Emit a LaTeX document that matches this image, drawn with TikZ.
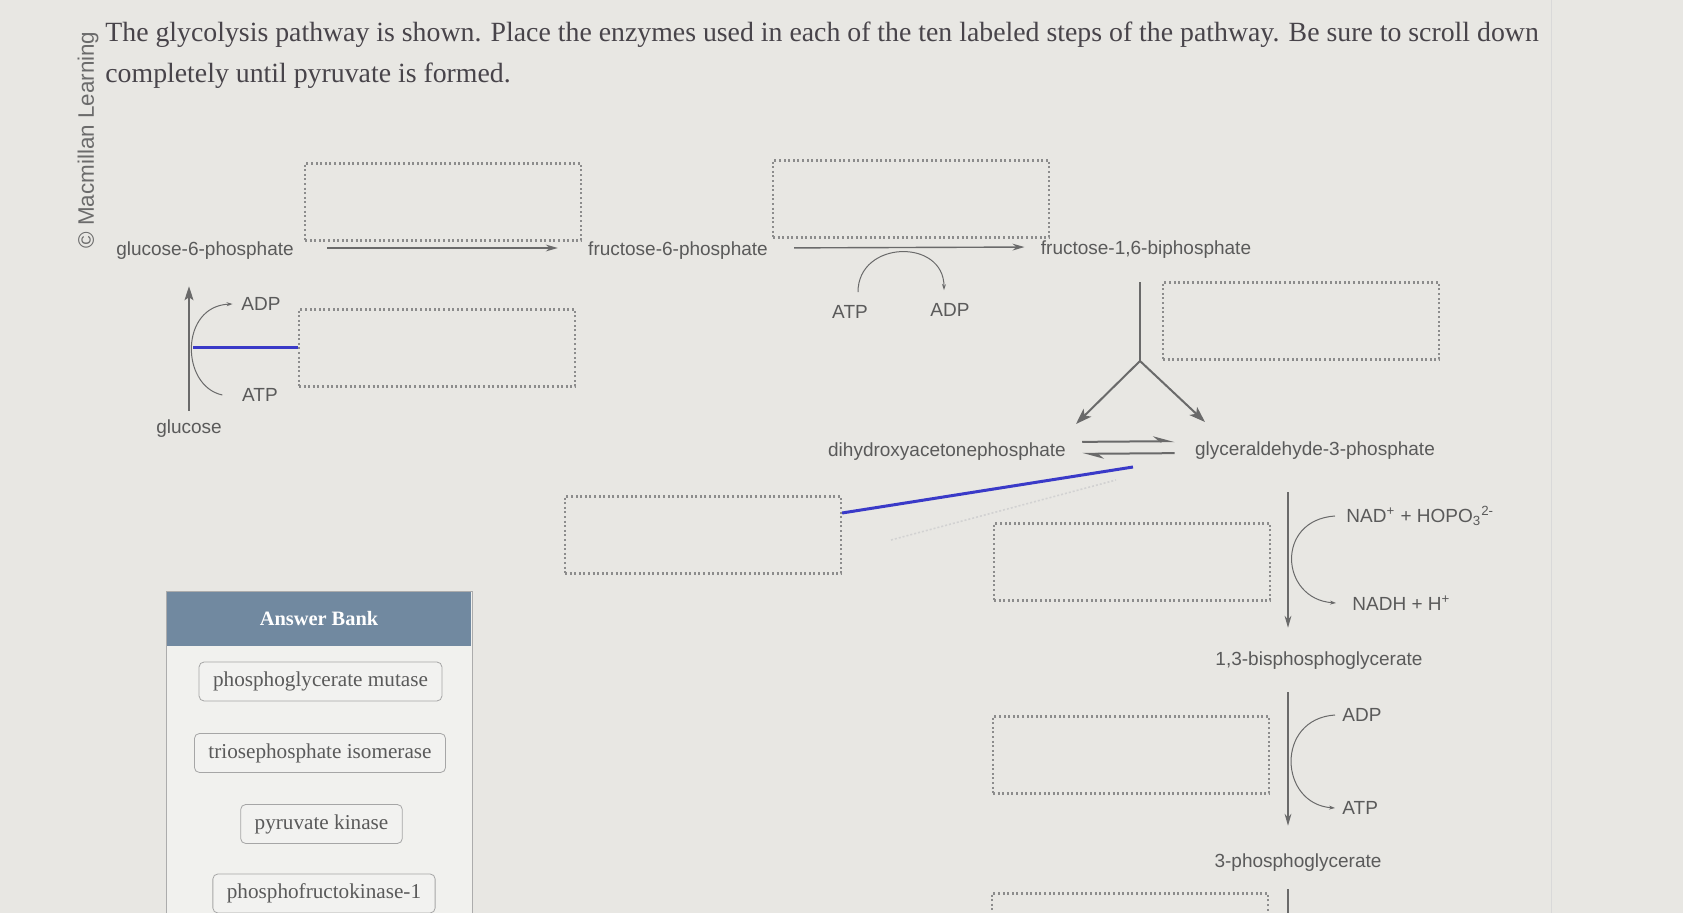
\documentclass[tikz,border=0pt]{standalone}
\usepackage{fontspec}
\setmainfont{Liberation Serif}
\setsansfont{Liberation Sans}
\usetikzlibrary{arrows.meta}
\definecolor{pagebg}{HTML}{E8E7E3}
\definecolor{ink}{HTML}{5A5A5A}
\definecolor{titleink}{HTML}{48444A}
\definecolor{rule}{HTML}{6A6A6A}
\definecolor{dots}{HTML}{8C8C8C}
\definecolor{cueblue}{HTML}{3A3AC8}
\definecolor{bankhead}{HTML}{7189A0}

\begin{document}
\begin{tikzpicture}[x=0.5pt,y=-0.5pt,
  chem/.style={font=\sffamily\fontsize{9.5}{11}\selectfont, text=ink, inner sep=0pt},
  flow/.style={draw=rule, line width=0.7pt, -{Stealth[length=6pt,width=3.4pt]}},
  rise/.style={draw=rule, line width=0.7pt, -{Stealth[length=7pt,width=4.5pt,inset=1.5pt]}},
  branch/.style={draw=rule, line width=1pt, -{Stealth[length=8pt,width=5.5pt,inset=2pt]}},
  cofac/.style={draw=rule, line width=0.5pt, -{Stealth[length=3pt,width=2pt]}},
  halfarrow/.style={draw=rule, line width=1pt, -{Stealth[length=9pt,width=5pt,left]}},
  zone/.style={draw=dots, line width=1.1pt, dash pattern=on 1pt off 1.3pt, minimum width=138pt, minimum height=38.5pt, inner sep=0pt},
  cue/.style={draw=cueblue, line width=1.5pt},
  tile/.style={draw=gray!70, rounded corners=2.5pt, fill=pagebg!55!white, text=ink, font=\fontsize{10.6}{12}\selectfont, minimum height=19.5pt, inner xsep=7pt}
]
\fill[pagebg] (0,0) rectangle (1683,913);
\useasboundingbox (0,0) rectangle (1683,913);
\clip (0,0) rectangle (1683,913);
\draw[gray!30] (1551,0) -- (1551,913);

\node[anchor=base west, font=\fontsize{13.9}{16}\selectfont, text=titleink, inner sep=0pt] (title1) at (105,42) {The glycolysis pathway is shown. Place the enzymes used in each of the ten labeled steps of the pathway. Be sure to scroll down};
\node[anchor=base west, font=\fontsize{13.9}{16}\selectfont, text=titleink, inner sep=0pt] (title2) at (105,83) {completely until pyruvate is formed.};
\node[rotate=90, font=\sffamily\fontsize{11.2}{13}\selectfont, text=ink!90, inner sep=0pt] (credit) at (88,140) {© Macmillan Learning};

\node[zone] (z1) at (443,202) {};
\node[zone] (z2) at (911,199) {};
\node[zone] (z3) at (437,348) {};
\node[zone] (z4) at (1301,321) {};
\node[zone] (z5) at (703,535) {};
\node[zone] (z6) at (1132,562) {};
\node[zone] (z7) at (1131,755) {};
\node[zone] (z8) at (1130,932) {};

\node[chem] (g6p) at (205,251) {glucose-6-phosphate};
\node[chem] (f6p) at (678,251) {fructose-6-phosphate};
\node[chem] (fbp) at (1146,250) {fructose-1,6-biphosphate};
\node[chem] (atpA) at (850,312) {ATP};
\node[chem] (adpA) at (950,310) {ADP};
\node[chem] (glc) at (189,429) {glucose};
\node[chem] (adpB) at (261,304) {ADP};
\node[chem] (atpB) at (260,395) {ATP};
\node[chem] (dhap) at (947,452) {dihydroxyacetonephosphate};
\node[chem] (gap) at (1315,451) {glyceraldehyde-3-phosphate};
\node[chem, anchor=west] (nad) at (1346,516) {NAD\textsuperscript{+} + HOPO\textsubscript{3}\textsuperscript{2-}};
\node[chem, anchor=west] (nadh) at (1352,603) {NADH + H\textsuperscript{+}};
\node[chem] (bpg) at (1319,661) {1,3-bisphosphoglycerate};
\node[chem, anchor=west] (adpC) at (1342,715) {ADP};
\node[chem, anchor=west] (atpC) at (1342,808) {ATP};
\node[chem] (pg3) at (1298,863) {3-phosphoglycerate};

\coordinate (fork) at (1140,361);
\coordinate (dhapin) at (1076,424);
\coordinate (gapin) at (1205,422);
\coordinate (col) at (1288,0);
\coordinate (cutoff) at (1288,913);
\coordinate (isoaim) at (1133,467);
\coordinate (ghostA) at (891,540);
\coordinate (ghostB) at (1116,480);

\draw[flow, shorten <=16.5pt, shorten >=15pt] ([yshift=1.5pt]g6p.east) -- ([yshift=1.5pt]f6p.west);
\draw[flow, shorten <=13pt, shorten >=8pt] ([yshift=1.5pt]f6p.east) -- ([yshift=1.5pt]fbp.west);
\draw[cofac] ([xshift=4pt,yshift=6.5pt]atpA.north) .. controls +(0,-52) and +(0,-52) .. ([xshift=-3pt,yshift=6.5pt]adpA.north);

\draw[rise, shorten <=4.5pt, shorten >=13pt] (glc.north) -- (glc.north |- g6p.south);
\draw[cofac] ([xshift=-9.75pt]atpB.west) .. controls +(-42,-9) and +(-53,2) .. ([xshift=-4.25pt]adpB.west);

\draw[draw=rule, line width=0.7pt, shorten <=11.5pt] (fbp.south -| fork) -- (fork);
\draw[branch] (fork) -- (dhapin);
\draw[branch] (fork) -- (gapin);
\draw[halfarrow, shorten <=8pt, shorten >=10pt] ([yshift=5pt]dhap.east) -- ([yshift=5pt]gap.west);
\draw[halfarrow, shorten <=10pt, shorten >=8pt] ([yshift=-1pt]gap.west) -- ([yshift=-1pt]dhap.east);

\draw[flow, shorten <=16pt, shorten >=12pt] (gap.south -| col) -- (bpg.north -| col);
\draw[cofac] ([xshift=-5.5pt]nad.west) .. controls +(-60,4) and +(-56,-4) .. ([xshift=-8pt]nadh.west);
\draw[flow, shorten <=11pt, shorten >=14pt] (bpg.south -| col) -- (pg3.north -| col);
\draw[cofac] ([xshift=-3.5pt]adpC.west) .. controls +(-60,4) and +(-56,-4) .. ([xshift=-3.5pt]atpC.west);
\draw[draw=rule, line width=0.7pt, shorten <=8.5pt] (pg3.south -| col) -- (cutoff);

\draw[cue, shorten >=2pt] (z3.west) -- (glc.north |- z3.west);
\draw[cue] ([yshift=11pt]z5.east) -- (isoaim);
\draw[gray!35, line width=0.8pt, dash pattern=on 1pt off 1pt] (ghostA) -- (ghostB);

\draw[gray!65, fill=pagebg!60!white] (166,591) rectangle (472,940);
\fill[bankhead] (167,592) rectangle (471,646);
\node[text=white, font=\bfseries\fontsize{10.2}{12}\selectfont] (bank) at (319,619) {Answer Bank};
\node[tile] (t1) at (320.5,681.5) {phosphoglycerate mutase};
\node[tile] (t2) at (320,753) {triosephosphate isomerase};
\node[tile] (t3) at (321.5,824) {pyruvate kinase};
\node[tile] (t4) at (324,893.5) {phosphofructokinase-1};
\end{tikzpicture}
\end{document}
